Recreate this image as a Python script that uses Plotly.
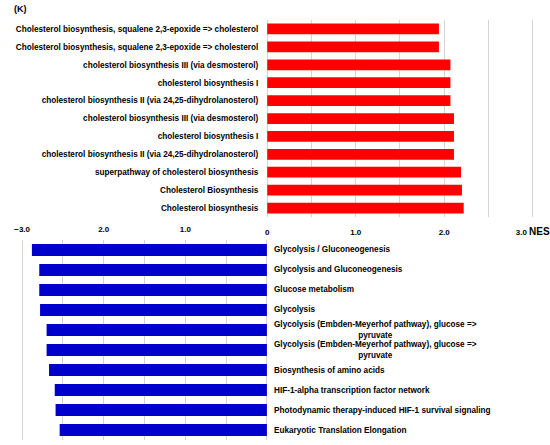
import plotly.graph_objects as go

# upregulated pathways (top panel, listed top to bottom)
up_terms = [
    "Cholesterol biosynthesis, squalene 2,3-epoxide => cholesterol",
    "Cholesterol biosynthesis, squalene 2,3-epoxide => cholesterol",
    "cholesterol biosynthesis III (via desmosterol)",
    "cholesterol biosynthesis I",
    "cholesterol biosynthesis II (via 24,25-dihydrolanosterol)",
    "cholesterol biosynthesis III (via desmosterol)",
    "cholesterol biosynthesis I",
    "cholesterol biosynthesis II (via 24,25-dihydrolanosterol)",
    "superpathway of cholesterol biosynthesis",
    "Cholesterol Biosynthesis",
    "Cholesterol biosynthesis",
]
up_nes = [1.94, 1.94, 2.07, 2.07, 2.07, 2.11, 2.11, 2.11, 2.19, 2.20, 2.22]

# downregulated pathways (bottom panel, listed top to bottom)
down_terms = [
    "Glycolysis / Gluconeogenesis",
    "Glycolysis and Gluconeogenesis",
    "Glucose metabolism",
    "Glycolysis",
    "Glycolysis (Embden-Meyerhof pathway), glucose =><br>pyruvate",
    "Glycolysis (Embden-Meyerhof pathway), glucose =><br>pyruvate",
    "Biosynthesis of amino acids",
    "HIF-1-alpha transcription factor network",
    "Photodynamic therapy-induced HIF-1 survival signaling",
    "Eukaryotic Translation Elongation",
]
down_nes = [-2.88, -2.79, -2.79, -2.78, -2.70, -2.70, -2.67, -2.60, -2.59, -2.54]

up_ticks = [0, 0.5, 1.0, 1.5, 2.0, 2.5, 3.0]
up_ticktext = ["0", "", "1.0", "", "2.0", "", "3.0 <span style='font-size:10px'>NES</span>"]
down_ticks = [-3.0, -2.5, -2.0, -1.5, -1.0, -0.5, 0]
down_ticktext = ["\u22123.0", "", "2.0", "", "1.0", "", ""]

FONT = "Liberation Sans, Arial, sans-serif"
LABEL_SIZE = 8.2
up_idx = list(range(len(up_terms)))
down_idx = list(range(len(down_terms)))

fig = go.Figure()
fig.add_trace(go.Bar(x=up_nes, y=up_idx, orientation="h", marker_color="#ff0000",
                     marker_line_width=0, width=0.6, xaxis="x", yaxis="y"))
fig.add_trace(go.Bar(x=down_nes, y=down_idx, orientation="h", marker_color="#0000cc",
                     marker_line_width=0, width=0.6, xaxis="x2", yaxis="y2"))

# labels for the blue bars sit to the right of the zero line
for i, t in enumerate(down_terms):
    fig.add_annotation(x=0, y=i, xref="x2", yref="y2", text="<b>%s</b>" % t,
                       xanchor="left", xshift=5, align="center", showarrow=False,
                       font=dict(family=FONT, size=LABEL_SIZE, color="#000000"))

fig.add_annotation(x=0.022, y=0.995, xref="paper", yref="paper", text="<b>(K)</b>",
                   xanchor="left", yanchor="top", showarrow=False,
                   font=dict(family=FONT, size=9, color="#000000"))

axis_font = dict(family=FONT, size=8, color="#000000")
# ranges padded a touch so the gridlines at the ends are still drawn
fig.update_layout(
    width=550, height=445,
    margin=dict(l=0, r=0, t=0, b=0),
    paper_bgcolor="white", plot_bgcolor="white",
    showlegend=False,
    font=dict(family=FONT),
    xaxis=dict(domain=[0.4835, 0.971], range=[-0.015, 3.015], tickvals=up_ticks,
               ticktext=["<b>%s</b>" % s for s in up_ticktext], tickfont=axis_font,
               showgrid=True, gridcolor="#d4d4d4", gridwidth=1, zeroline=False,
               showline=False, ticks="outside", ticklen=7, tickcolor="rgba(0,0,0,0)",
               ticklabeloverflow="allow", anchor="y", automargin=False),
    yaxis=dict(domain=[0.5124, 0.955], range=[len(up_terms) - 0.5, -0.5],
               tickvals=up_idx, ticktext=["<b>%s</b>" % t for t in up_terms],
               tickfont=dict(family=FONT, size=LABEL_SIZE, color="#000000"),
               showgrid=False, zeroline=False, showline=False,
               ticks="outside", ticklen=5, tickcolor="rgba(0,0,0,0)", anchor="x",
               automargin=False),
    xaxis2=dict(domain=[0.038, 0.4875], range=[-3.015, 0.015], tickvals=down_ticks,
                ticktext=["<b>%s</b>" % s for s in down_ticktext], tickfont=axis_font,
                showgrid=True, gridcolor="#d4d4d4", gridwidth=1, zeroline=False,
                showline=False, ticks="outside", ticklen=4, tickcolor="rgba(0,0,0,0)",
                side="top", anchor="y2", automargin=False),
    yaxis2=dict(domain=[0.0112, 0.4607], range=[len(down_terms) - 0.5, -0.5],
                showticklabels=False, showgrid=False, zeroline=False, showline=False,
                anchor="x2", automargin=False),
)

# drop the default page margin so the figure fills the window
fig.write_html("out.html", config={"displayModeBar": False},
               post_script="document.body.style.margin='0';")
